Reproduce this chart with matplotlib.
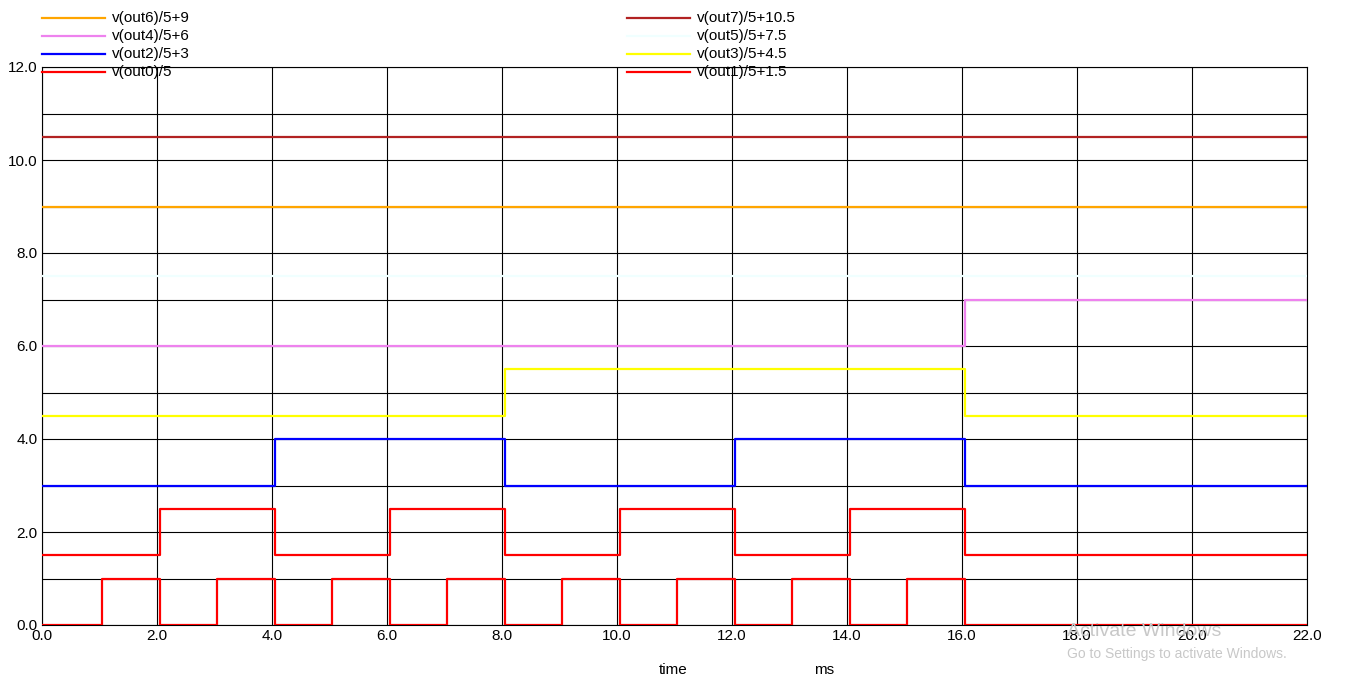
import matplotlib
matplotlib.use("Agg")
import matplotlib.pyplot as plt
from matplotlib.lines import Line2D

# step times (ms) and logic levels for each output (level holds from time[i] to time[i+1])
t_out0 = [0, 1.05, 2.05, 3.05, 4.05, 5.05, 6.05, 7.05, 8.05, 9.05, 10.05, 11.05, 12.05, 13.05, 14.05, 15.05, 16.05, 22]
l_out0 = [0, 5, 0, 5, 0, 5, 0, 5, 0, 5, 0, 5, 0, 5, 0, 5, 0, 0]
t_out1 = [0, 2.05, 4.05, 6.05, 8.05, 10.05, 12.05, 14.05, 16.05, 22]
l_out1 = [0, 5, 0, 5, 0, 5, 0, 5, 0, 0]
t_out2 = [0, 4.05, 8.05, 12.05, 16.05, 22]
l_out2 = [0, 5, 0, 5, 0, 0]
t_out3 = [0, 8.05, 16.05, 22]
l_out3 = [0, 5, 0, 0]
t_out4 = [0, 16.05, 22]
l_out4 = [0, 5, 5]
t_out5 = [0, 22]
l_out5 = [0, 0]
t_out6 = [0, 22]
l_out6 = [0, 0]
t_out7 = [0, 22]
l_out7 = [0, 0]

offsets = [0, 1.5, 3, 4.5, 6, 7.5, 9, 10.5]
labels = ["v(out0)/5", "v(out1)/5+1.5", "v(out2)/5+3", "v(out3)/5+4.5",
          "v(out4)/5+6", "v(out5)/5+7.5", "v(out6)/5+9", "v(out7)/5+10.5"]
colors = ["#ff0000", "#ff0000", "#0000ff", "#ffff00", "#ee82ee", "#f0ffff", "#ffa500", "#b22222"]
series = [(t_out0, l_out0), (t_out1, l_out1), (t_out2, l_out2), (t_out3, l_out3),
          (t_out4, l_out4), (t_out5, l_out5), (t_out6, l_out6), (t_out7, l_out7)]

x_ticks = [0, 2, 4, 6, 8, 10, 12, 14, 16, 18, 20, 22]
y_ticks = [0, 2, 4, 6, 8, 10, 12]

plt.rcParams['font.family'] = ['Liberation Sans', 'DejaVu Sans']
fig = plt.figure(figsize=(13.56, 6.88), dpi=100)
ax = fig.add_axes([42/1356, 1-625/688, (1307-42)/1356, (625-67)/688])

for (t, l), off, c in zip(series, offsets, colors):
    ax.step(t, [v/5 + off for v in l], where='post', color=c, lw=1.6, zorder=3)

ax.set_xlim(0, 22)
ax.set_ylim(0, 12)
ax.set_xticks(x_ticks)
ax.set_xticklabels([f"{v:.1f}" for v in x_ticks], fontsize=11)
ax.set_yticks(y_ticks)
ax.set_yticklabels([f"{v:.1f}" for v in y_ticks], fontsize=11)
ax.set_yticks(range(13), minor=True)
ax.grid(True, which='both', axis='y', color='black', lw=0.8)
ax.grid(True, which='major', axis='x', color='black', lw=0.8)
ax.tick_params(which='both', length=0, pad=3)
for s in ax.spines.values():
    s.set_linewidth(0.8)

# legend
left_col = [6, 4, 2, 0]
right_col = [7, 5, 3, 1]
rows_y = [18, 36, 54, 72]
for col, x0, x1, xt in [(left_col, 42, 105, 112), (right_col, 627, 690, 697)]:
    for idx, yp in zip(col, rows_y):
        fy = 1 - yp/688
        fig.add_artist(Line2D([x0/1356, x1/1356], [fy, fy], color=colors[idx], lw=1.6))
        fig.text(xt/1356, fy, labels[idx], fontsize=11, va='center', ha='left')

fig.text(673/1356, 1-670/688, "time", fontsize=11, ha='center', va='center')
fig.text(824/1356, 1-670/688, "ms", fontsize=11, ha='center', va='center')
fig.text(1067/1356, 1-632/688, "Activate Windows", fontsize=14, color='#c8c8c8', ha='left', va='center')
fig.text(1067/1356, 1-654/688, "Go to Settings to activate Windows.", fontsize=10, color='#c8c8c8', ha='left', va='center')

fig.savefig("out.png", dpi=100)
